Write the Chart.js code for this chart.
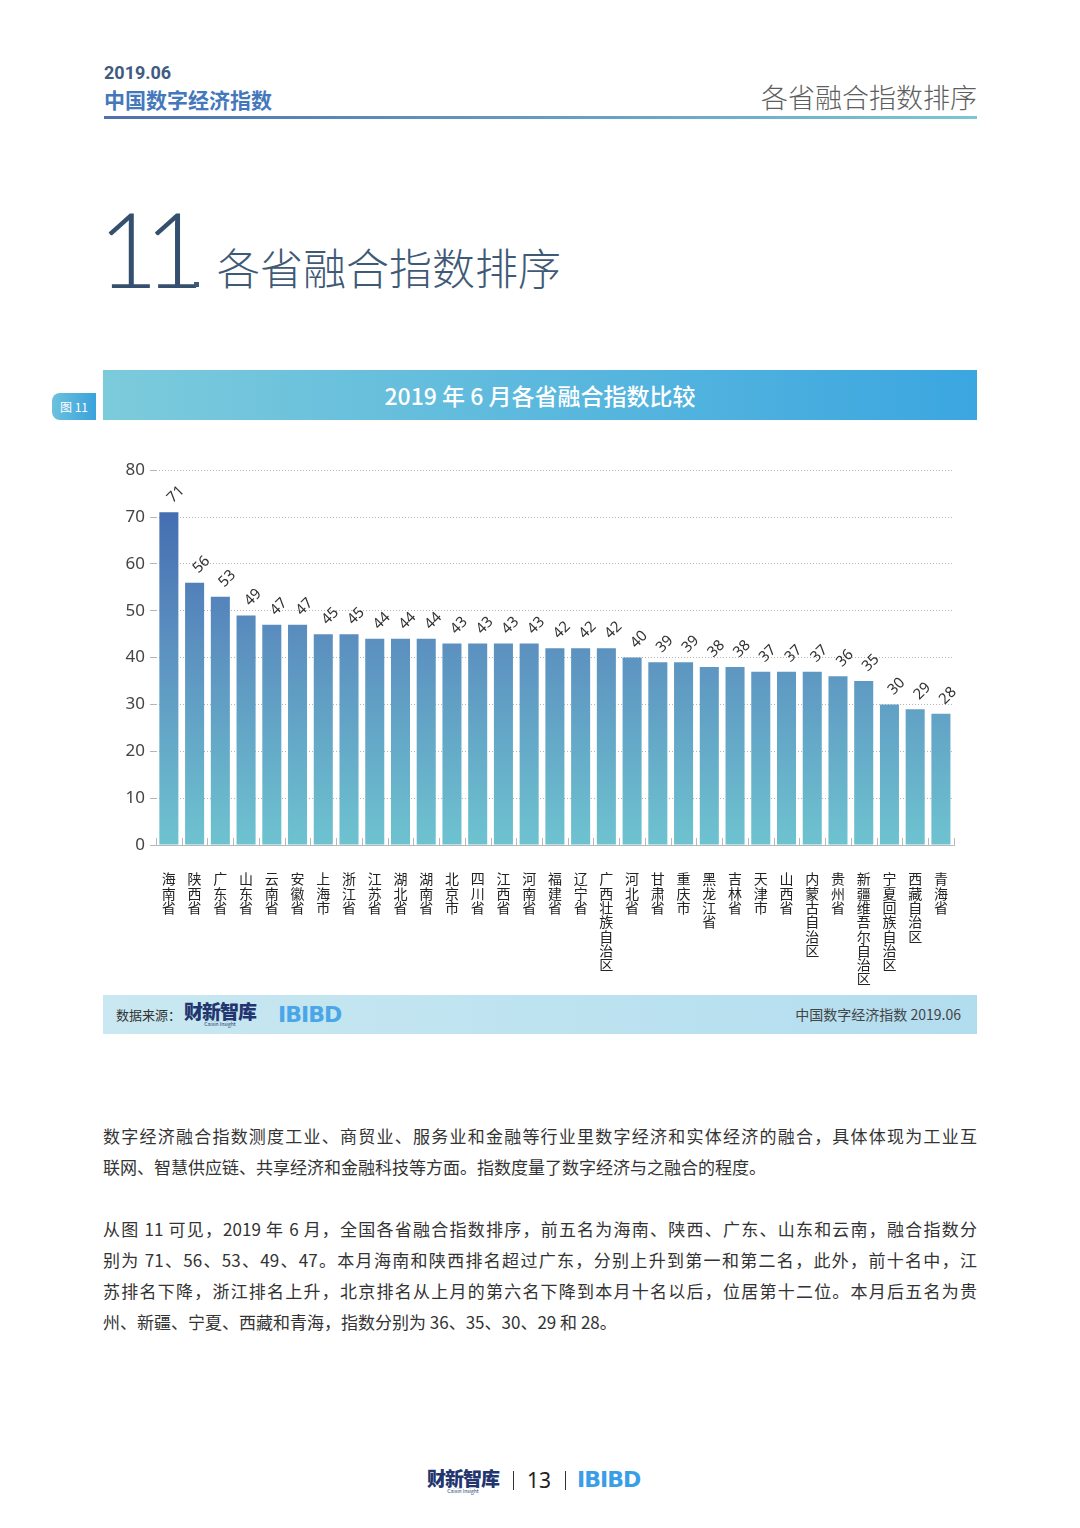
<!DOCTYPE html>
<html><head><meta charset="utf-8">
<script src="https://cdn.jsdelivr.net/npm/chart.js@4"></script>
<style>
html,body{margin:0;padding:0;background:#fff;}
body{width:1080px;height:1528px;position:relative;overflow:hidden;font-family:"Noto Sans CJK SC","Noto Sans",sans-serif;}
.abs{position:absolute;}
#hdate{left:104px;top:62px;font-family:"Liberation Sans Narrow","Roboto",sans-serif;font-weight:bold;font-size:18px;color:#3f5b82;}
#hname{left:104px;top:84px;font-weight:bold;font-size:21px;color:#4478bb;}
#hright{right:103px;top:77px;font-size:27px;color:#5e5e5e;font-weight:300;}
#hline{left:104px;top:116px;width:873px;height:3px;background:linear-gradient(90deg,#4f70ad,#7bc7d3);}
#bignum{left:98px;top:196px;font-family:"Lato","Noto Sans",sans-serif;font-weight:300;font-size:104px;color:#34506e;line-height:1;letter-spacing:-14px;}
#bigdot{left:194px;top:264px;width:5px;height:5px;background:#3f5a76;}
#bigtitle{left:217px;top:243px;font-size:43px;color:#3f5a76;font-weight:300;line-height:1.1;white-space:nowrap;}
#tag{left:52px;top:393px;width:44px;height:27px;border-radius:8px 0 0 8px;background:linear-gradient(90deg,#6cc1dd,#3aa2dc);color:#fff;font-size:12px;line-height:27px;text-align:center;}
#banner{left:103px;top:370px;width:874px;height:50px;background:linear-gradient(90deg,#7ccbdb,#3ba6e0);color:#fff;font-size:23px;line-height:50px;text-align:center;font-weight:500;}
#chartbox{left:100px;top:455px;width:875px;height:540px;}
#src{left:103px;top:995px;width:874px;height:39px;background:linear-gradient(90deg,#c9e8f1,#b2ddef);}
#srcl{left:13px;top:0;line-height:39px;font-size:13px;color:#333;}
#logo1{left:81px;top:6px;font-weight:900;font-size:19px;color:#22356e;line-height:20px;letter-spacing:-1px;white-space:nowrap;}
#logo1 small{display:block;font-size:5px;text-align:center;line-height:6px;font-weight:400;letter-spacing:0;}
#bbd1{left:175px;top:9px;font-family:"DejaVu Sans","Noto Sans",sans-serif;font-weight:900;font-size:22px;color:#4aa6e6;line-height:22px;letter-spacing:-1px;}
#srcr{right:16px;top:0;line-height:39px;font-size:14px;color:#444;}
.para{left:103px;width:874px;font-size:17px;color:#333;line-height:31px;}
.para div{text-align:justify;text-align-last:justify;white-space:nowrap;}
.para div.last{text-align-last:left;}
#footer{left:427px;top:1466px;height:30px;width:220px;}
#flogo{left:0;top:2px;font-weight:900;font-size:19px;color:#22356e;line-height:20px;letter-spacing:-1px;white-space:nowrap;}
#flogo small{display:block;font-size:5px;text-align:center;line-height:6px;font-weight:400;letter-spacing:0;}
#fsep1{left:86px;top:5px;width:1px;height:19px;background:#333;}
#fnum{left:100px;top:0;font-size:21px;color:#222;line-height:28px;font-family:"Noto Sans",sans-serif;}
#fsep2{left:138px;top:5px;width:1px;height:19px;background:#333;}
#fbbd{left:150px;top:3px;font-family:"DejaVu Sans",sans-serif;font-weight:900;font-size:22px;color:#3a9ee6;line-height:22px;letter-spacing:-1px;}
</style></head>
<body>
<div class="abs" id="hdate">2019.06</div>
<div class="abs" id="hname">中国数字经济指数</div>
<div class="abs" id="hright">各省融合指数排序</div>
<div class="abs" id="hline"></div>
<div class="abs" id="bignum">11</div>
<div class="abs" id="bigdot" style="top:282px;"></div>
<div class="abs" id="bigtitle">各省融合指数排序</div>
<div class="abs" id="tag">图 11</div>
<div class="abs" id="banner">2019 年 6 月各省融合指数比较</div>
<div class="abs" id="chartbox"><canvas id="c"></canvas></div>
<div class="abs" id="src">
  <div class="abs" id="srcl">数据来源：</div>
  <div class="abs" id="logo1">财新智库<small>Caixin Insight</small></div>
  <div class="abs" id="bbd1">IBIBD</div>
  <div class="abs" id="srcr">中国数字经济指数 2019.06</div>
</div>
<div class="abs para" style="top:1120px;">
  <div>数字经济融合指数测度工业、商贸业、服务业和金融等行业里数字经济和实体经济的融合，具体体现为工业互</div>
  <div class="last">联网、智慧供应链、共享经济和金融科技等方面。指数度量了数字经济与之融合的程度。</div>
</div>
<div class="abs para" style="top:1213px;">
  <div>从图 11 可见，2019 年 6 月，全国各省融合指数排序，前五名为海南、陕西、广东、山东和云南，融合指数分</div>
  <div>别为 71、56、53、49、47。本月海南和陕西排名超过广东，分别上升到第一和第二名，此外，前十名中，江</div>
  <div>苏排名下降，浙江排名上升，北京排名从上月的第六名下降到本月十名以后，位居第十二位。本月后五名为贵</div>
  <div class="last">州、新疆、宁夏、西藏和青海，指数分别为 36、35、30、29 和 28。</div>
</div>
<div class="abs" id="footer">
  <div class="abs" id="flogo">财新智库<small>Caixin Insight</small></div>
  <div class="abs" id="fsep1"></div>
  <div class="abs" id="fnum">13</div>
  <div class="abs" id="fsep2"></div>
  <div class="abs" id="fbbd">IBIBD</div>
</div>
<script>
const provinces = ["海南省","陕西省","广东省","山东省","云南省","安徽省","上海市","浙江省","江苏省","湖北省","湖南省","北京市","四川省","江西省","河南省","福建省","辽宁省","广西壮族自治区","河北省","甘肃省","重庆市","黑龙江省","吉林省","天津市","山西省","内蒙古自治区","贵州省","新疆维吾尔自治区","宁夏回族自治区","西藏自治区","青海省"];
const fusionIndex = [71,56,53,49,47,47,45,45,44,44,44,43,43,43,43,42,42,42,40,39,39,38,38,37,37,37,36,35,30,29,28];
const yTicks = [0,10,20,30,40,50,60,70,80];

const verticalLabels = provinces.map(p => p.split(""));

const valueLabels = {
  id:'valueLabels',
  afterDatasetsDraw(chart){
    const ctx = chart.ctx;
    const meta = chart.getDatasetMeta(0);
    ctx.save();
    ctx.font = '15px "Noto Sans", sans-serif';
    ctx.fillStyle = '#333';
    ctx.textAlign = 'center';
    ctx.textBaseline = 'middle';
    meta.data.forEach((bar,i)=>{
      ctx.save();
      ctx.translate(bar.x + 7, bar.y - 18);
      ctx.rotate(-Math.PI/4);
      ctx.fillText(String(fusionIndex[i]), 0, 0);
      ctx.restore();
    });
    ctx.restore();
  }
};
const separators = {
  id:'separators',
  afterDatasetsDraw(chart){
    const ctx = chart.ctx, xs = chart.scales.x, ys = chart.scales.y;
    const base = ys.getPixelForValue(0);
    const step = xs.getPixelForValue(1)-xs.getPixelForValue(0);
    ctx.save();
    ctx.strokeStyle = '#b8b8b8';
    ctx.lineWidth = 1;
    ctx.beginPath();
    ctx.moveTo(chart.chartArea.left, base+0.5);
    ctx.lineTo(chart.chartArea.right, base+0.5);
    const n = fusionIndex.length;
    for(let i=0;i<=n;i++){
      let x = (i<n) ? xs.getPixelForValue(i) - step/2 : xs.getPixelForValue(n-1) + step/2;
      x = Math.round(x)+0.5;
      ctx.moveTo(x, base-7);
      ctx.lineTo(x, base+1);
    }
    ctx.stroke();
    ctx.restore();
  }
};

const ctx = document.getElementById('c');
new Chart(ctx, {
  type:'bar',
  data:{
    labels: verticalLabels,
    datasets:[{
      data: fusionIndex,
      backgroundColor: (c)=>{
        const area = c.chart.chartArea;
        if(!area) return '#5a9ac0';
        const g = c.chart.ctx.createLinearGradient(0, area.top, 0, area.bottom);
        g.addColorStop(0, '#3d63ad');
        g.addColorStop(0.45, '#5b8fbf');
        g.addColorStop(1, '#6ec3d0');
        return g;
      },
      barPercentage: 0.74,
      categoryPercentage: 1.0
    }]
  },
  options:{
    responsive:true,
    maintainAspectRatio:false,
    animation:false,
    layout:{padding:{top:15,right:5,left:0,bottom:0}},
    plugins:{legend:{display:false},tooltip:{enabled:false}},
    scales:{
      x:{
        grid:{display:false, drawTicks:false},
        border:{display:false},
        ticks:{
          color:'#222',
          font:{family:'"Noto Sans CJK SC", sans-serif', size:14, lineHeight:1.02},
          padding:27,
          maxRotation:0, minRotation:0, autoSkip:false
        },
        afterFit(scale){ scale.height = 150; }
      },
      y:{
        min:0,max:80,
        afterBuildTicks(scale){ scale.ticks = yTicks.map(v=>({value:v})); },
        grid:{color:'#b5b5b5', lineWidth:1, drawTicks:true, tickLength:6, tickColor:'#b5b5b5'},
        border:{display:false, dash:[1,2]},
        ticks:{color:'#444', font:{family:'"Noto Sans", sans-serif', size:17}, padding:5},
        afterFit(scale){ scale.width = 56; }
      }
    }
  },
  plugins:[valueLabels, separators]
});
</script>
</body></html>
